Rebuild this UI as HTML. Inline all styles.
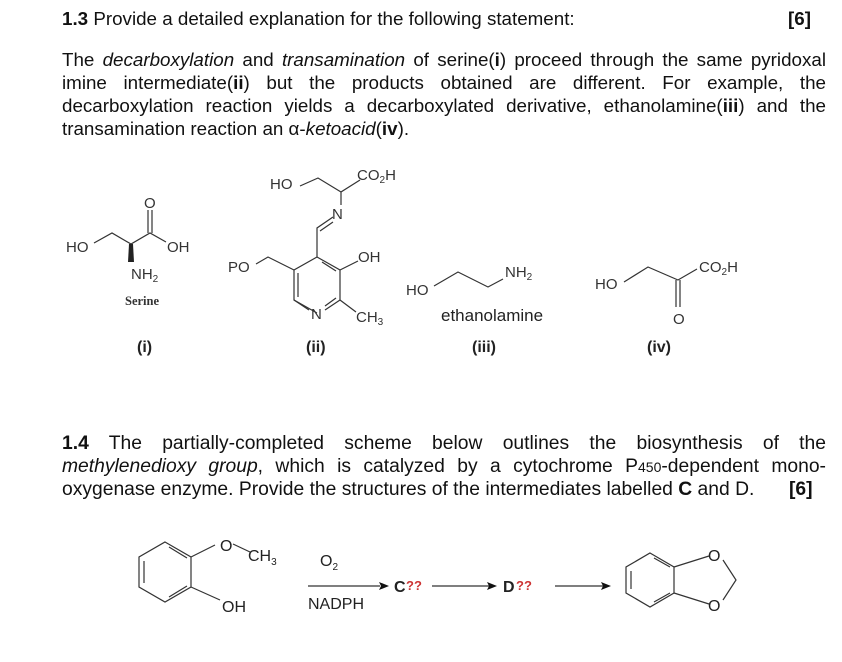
<!DOCTYPE html>
<html><head><meta charset="utf-8"><style>
body{margin:0;background:#fff;width:842px;height:662px;overflow:hidden;position:relative;font-family:"Liberation Sans",Arial,sans-serif;color:#111}
.t{position:absolute;font-size:18.8px;line-height:23px;white-space:nowrap}
.j{left:62px;width:764px;text-align:justify;text-align-last:justify;white-space:normal}
.s{font-size:19.3px}
</style></head><body>
<div class="t" style="left:62px;top:7px"><b>1.3</b> Provide a detailed explanation for the following statement:</div>
<div class="t" style="left:788px;top:7px"><b>[6]</b></div>
<div class="t j" style="top:48px">The <i>decarboxylation</i> and <i>transamination</i> of serine(<b>i</b>) proceed through the same pyridoxal</div>
<div class="t j" style="top:71px">imine intermediate(<b>ii</b>) but the products obtained are different. For example, the</div>
<div class="t j" style="top:94px">decarboxylation reaction yields a decarboxylated derivative, ethanolamine(<b>iii</b>) and the</div>
<div class="t" style="left:62px;top:117px">transamination reaction an α-<i>ketoacid</i>(<b>iv</b>).</div>

<div class="t j s" style="top:432px"><b>1.4</b> The partially-completed scheme below outlines the biosynthesis of the</div>
<div class="t j s" style="top:455px"><i>methylenedioxy group</i>, which is catalyzed by a cytochrome P<span style="font-size:14px">450</span>-dependent mono-</div>
<div class="t s" style="left:62px;top:478px">oxygenase enzyme. Provide the structures of the intermediates labelled <b>C</b> and D.</div>
<div class="t s" style="left:789px;top:478px"><b>[6]</b></div>

<svg width="842" height="662" style="position:absolute;left:0;top:0" font-family="Liberation Sans, Arial, sans-serif">
<g stroke="#333" stroke-width="1.2" fill="none">
<path d="M94,243 L112,233 L131,244 L150,233 L166,242"/>
<path d="M148,233 V210 M152,233 V210"/>
<path d="M317,257 L340,270 L340,300 M317,313 L294,300 L294,270 L317,257"/>
<path d="M322,262 L336,271 M336,298 L325,306 M298,297 V273"/>
<path d="M340,300 L325,310 M309,310 L294,300"/>
<path d="M317,257 V228 L333,217 M320,231 L333,222"/>
<path d="M341,205 L341,192 L360,180 M341,192 L318,178 L300,186"/>
<path d="M340,270 L358,261 M340,300 L356,312 M294,270 L268,257 L256,264"/>
<path d="M434,286 L458,272 L488,287 L503,279"/>
<path d="M624,282 L648,267 L678,280 L697,269"/>
<path d="M676,280 V307 M680,280 V307"/>
<path d="M165,542 L191,557 L191,587 L165,602 L139,587 L139,557 Z"/>
<path d="M144,561 V583 M169,597 L187,586 M187,558 L169,547"/>
<path d="M191,557 L215,545 M233,544 L250,552 M191,587 L220,600"/>
<path d="M308,586 H380 M432,586 H490 M555,586 H604"/>
<path d="M650,553 L674,567 L674,593 L650,607 L626,593 L626,567 Z"/>
<path d="M631,571 V589 M654,602 L670,593 M670,567 L654,558"/>
<path d="M674,567 L709,556 M674,593 L709,604 M723,560 L736,580 L723,600"/>
</g>
<path d="M129,244 L133,244 L134,262 L128,262 Z" fill="#222"/>
<g fill="#111"><path d="M389,586 L379,582 L381,586 L379,590 Z"/><path d="M497,586 L487,582 L489,586 L487,590 Z"/><path d="M611,586 L601,582 L603,586 L601,590 Z"/></g>
<g fill="#333" font-size="15">
<text x="66" y="252">HO</text><text x="167" y="252">OH</text><text x="144" y="208">O</text>
<text x="131" y="279">NH<tspan font-size="10" dy="3">2</tspan></text>
<text x="125" y="305" font-family="Liberation Serif, serif" font-size="12.5" font-weight="bold">Serine</text>
<text x="270" y="189">HO</text><text x="357" y="180">CO<tspan font-size="10" dy="3">2</tspan><tspan dy="-3">H</tspan></text>
<text x="332" y="219">N</text><text x="358" y="262">OH</text><text x="228" y="272">PO</text>
<text x="311" y="319">N</text><text x="356" y="322">CH<tspan font-size="10" dy="3">3</tspan></text>
<text x="406" y="295">HO</text><text x="505" y="277">NH<tspan font-size="10" dy="3">2</tspan></text>
<text x="595" y="289">HO</text><text x="699" y="272">CO<tspan font-size="10" dy="3">2</tspan><tspan dy="-3">H</tspan></text>
<text x="673" y="324">O</text>
<text x="441" y="321" font-size="17" fill="#222">ethanolamine</text>
</g>
<g font-size="16" font-weight="bold" fill="#222">
<text x="137" y="352">(i)</text><text x="306" y="352">(ii)</text><text x="472" y="352">(iii)</text><text x="647" y="352">(iv)</text>
</g>
<g fill="#222" font-size="16">
<text x="220" y="551">O</text><text x="248" y="561">CH<tspan font-size="10" dy="4">3</tspan></text>
<text x="222" y="612">OH</text>
<text x="320" y="566">O<tspan font-size="10" dy="4">2</tspan></text>
<text x="308" y="609">NADPH</text>
<text x="708" y="561">O</text><text x="708" y="611">O</text>
<text x="394" y="592" font-weight="bold">C</text><text x="406" y="590" fill="#c33" font-size="13" font-weight="bold">??</text>
<text x="503" y="592" font-weight="bold">D</text><text x="516" y="590" fill="#c33" font-size="13" font-weight="bold">??</text>
</g>
</svg>
</body></html>
